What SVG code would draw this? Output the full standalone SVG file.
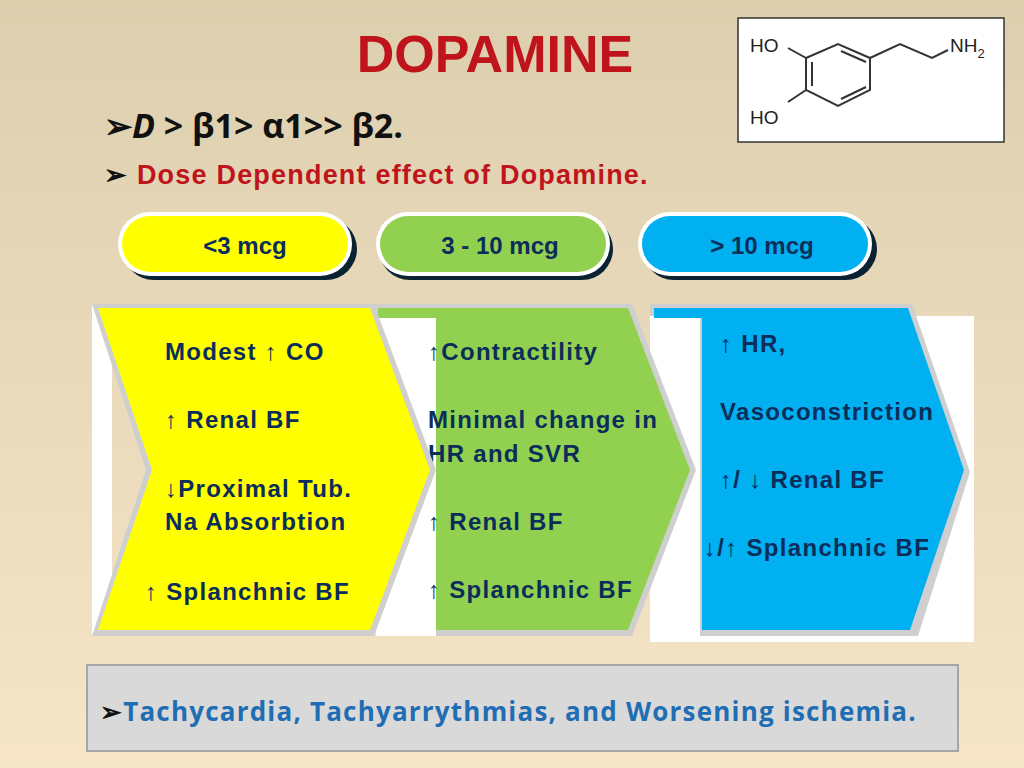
<svg xmlns="http://www.w3.org/2000/svg" width="1024" height="768" viewBox="0 0 1024 768">
<defs>
<linearGradient id="bg" x1="0" y1="0" x2="0" y2="1"><stop offset="0" stop-color="#dccfae"/><stop offset="1" stop-color="#f6e5c7"/></linearGradient>
<style>
.t{font-family:"Liberation Sans",Arial,sans-serif;font-weight:bold;font-size:24px;letter-spacing:1.3px;fill:#0b2d5a}
.p{font-family:"Liberation Sans",Arial,sans-serif;font-weight:bold;font-size:24px;fill:#0b2d5a;text-anchor:middle}
.sh{fill:#0b2233}
.wb{fill:#fff}
.mol{fill:none;stroke:#333;stroke-width:2}
.ml{font-family:"Liberation Sans",Arial,sans-serif;font-size:19px;fill:#222}
</style>
</defs>
<rect width="1024" height="768" fill="url(#bg)"/>
<text x="495" y="72" text-anchor="middle" font-family="Liberation Sans,Arial,sans-serif" font-weight="bold" font-size="52" fill="#c0141c">DOPAMINE</text>
<text x="104" y="138" font-family="Open Sans,sans-serif" font-weight="bold" font-size="34" fill="#111">➢<tspan font-style="italic">D</tspan> &gt; β1&gt; α1&gt;&gt; β2.</text>
<text x="104" y="184" font-family="Liberation Sans,Arial,sans-serif" font-weight="bold" font-size="27" letter-spacing="1.2" fill="#c0141c"><tspan fill="#111">➢</tspan> Dose Dependent effect of Dopamine.</text>
<g id="molecule">
<rect x="738" y="18" width="266" height="124" fill="#fff" stroke="#333" stroke-width="1.5"/>
<polygon class="mol" points="806,58 838,44 870,58 870,90 838,106 806,90"/>
<line class="mol" x1="812" y1="62" x2="812" y2="86"/>
<line class="mol" x1="841" y1="51" x2="866" y2="62"/>
<line class="mol" x1="841" y1="99" x2="866" y2="87"/>
<polyline class="mol" points="870,58 900,44 932,58 948,50"/>
<line class="mol" x1="806" y1="58" x2="788" y2="48"/>
<line class="mol" x1="806" y1="90" x2="788" y2="102"/>
<text class="ml" x="750" y="52">HO</text>
<text class="ml" x="750" y="124">HO</text>
<text class="ml" x="950" y="52">NH<tspan font-size="13" dy="6">2</tspan></text>
</g>
<g id="pill1">
<rect x="123" y="218" width="234" height="62" rx="31" class="sh"/>
<rect x="118" y="212" width="234" height="64" rx="32" fill="#fff"/>
<rect x="122" y="216" width="226" height="56" rx="28" fill="#ffff00"/>
<text class="p" x="245" y="254">&lt;3 mcg</text>
</g>
<g id="pill2">
<rect x="379" y="218" width="234" height="62" rx="31" class="sh"/>
<rect x="376" y="212" width="234" height="64" rx="32" fill="#fff"/>
<rect x="380" y="216" width="226" height="56" rx="28" fill="#92d050"/>
<text class="p" x="500" y="254">3 - 10 mcg</text>
</g>
<g id="pill3">
<rect x="643" y="218" width="234" height="62" rx="31" class="sh"/>
<rect x="638" y="212" width="234" height="64" rx="32" fill="#fff"/>
<rect x="642" y="216" width="226" height="56" rx="28" fill="#00b0f0"/>
<text class="p" x="762" y="254">&gt; 10 mcg</text>
</g>
<g id="col3">
<rect x="650" y="316" width="324" height="326" class="wb"/>
<polygon points="650,304 912,304 970,472 918,636 700,636 700,316 650,316" fill="#cfcfcf"/>
<polygon points="654,308 908,308 964,470 910,630 702,630 702,318 654,318" fill="#00b0f0"/>
<text class="t" x="720" y="352">↑ HR,</text>
<text class="t" x="720" y="420">Vasoconstriction</text>
<text class="t" x="720" y="488">↑/ ↓ Renal BF</text>
<text class="t" x="704" y="556">↓/↑ Splanchnic BF</text>
</g>
<g id="col2">
<rect x="376" y="316" width="60" height="320" class="wb"/>
<polygon points="374,304 632,304 696,470 632,636 436,636 436,318 376,318" fill="#cfcfcf"/>
<polygon points="378,308 628,308 690,470 628,630 436,630 436,318 378,318" fill="#92d050"/>
<text class="t" x="428" y="360">↑Contractility</text>
<text class="t" x="428" y="428">Minimal change in</text>
<text class="t" x="428" y="462">HR and SVR</text>
<text class="t" x="428" y="530">↑ Renal BF</text>
<text class="t" x="428" y="598">↑ Splanchnic BF</text>
</g>
<g id="col1">
<rect x="92" y="304" width="20" height="330" class="wb"/>
<polygon points="92,304 374,304 436,470 374,636 92,636 146,470" fill="#cfcfcf"/>
<polygon points="98,308 370,308 430,470 370,630 98,630 152,470" fill="#ffff00"/>
<text class="t" x="165" y="360">Modest ↑ CO</text>
<text class="t" x="165" y="428">↑ Renal BF</text>
<text class="t" x="165" y="497">↓Proximal Tub.</text>
<text class="t" x="165" y="530">Na  Absorbtion</text>
<text class="t" x="145" y="600">↑ Splanchnic BF</text>
</g>
<g id="footer">
<rect x="87" y="665" width="871" height="86" fill="#d9d9d9" stroke="#a6a6a6" stroke-width="2"/>
<text x="100" y="721" font-family="Open Sans,sans-serif" font-weight="bold" font-size="26" letter-spacing="1.2" fill="#1f6eb4"><tspan fill="#111">➢</tspan>Tachycardia, Tachyarrythmias, and Worsening ischemia.</text>
</g>
</svg>
